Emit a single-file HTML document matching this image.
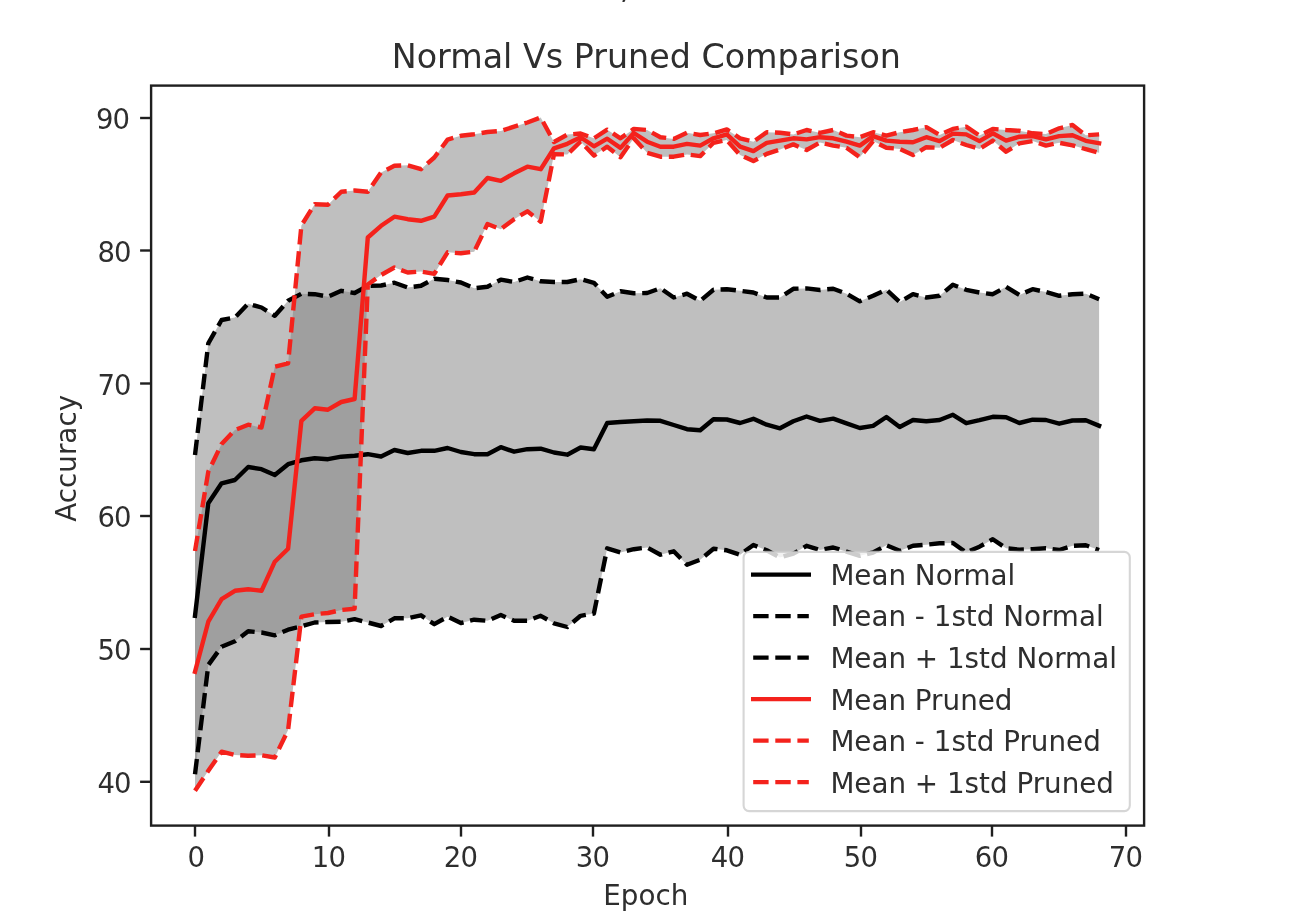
<!DOCTYPE html>
<html lang="en"><head><meta charset="utf-8"><title>Normal Vs Pruned Comparison</title>
<style>html,body{margin:0;padding:0;background:#fff}body{width:1296px;height:924px;overflow:hidden}svg{display:block}text{font-family:"DejaVu Sans","Liberation Sans",sans-serif;fill:#2e2e2e}.t{font-size:27.78px}.k{font-size:27.5px;letter-spacing:-0.8px}.ttl{font-size:33.33px}</style></head><body>
<svg width="1296" height="924" viewBox="0 0 1296 924">
<rect width="1296" height="924" fill="#fff"/>
<defs><clipPath id="ax"><rect x="151.1" y="85.6" width="992.9999999999999" height="740.0"/></clipPath></defs>
<g>
<g clip-path="url(#ax)">
<polygon points="195.0,455.0 208.3,343.3 221.6,320.0 234.9,317.5 248.2,303.7 261.5,307.5 274.8,315.8 288.1,300.8 301.4,293.7 314.7,294.2 328.0,296.7 341.3,290.8 354.6,293.0 367.8,285.8 381.1,285.5 394.4,282.7 407.7,287.5 421.0,285.8 434.3,278.7 447.6,280.0 460.9,282.5 474.2,288.3 487.5,286.7 500.8,279.7 514.1,282.0 527.4,277.5 540.7,281.3 554.0,282.0 567.3,282.0 580.6,279.2 593.9,282.8 607.2,296.7 620.5,291.3 633.8,293.3 647.1,293.0 660.4,288.3 673.7,297.5 687.0,293.7 700.2,300.8 713.5,289.7 726.8,289.2 740.1,290.8 753.4,292.5 766.7,297.5 780.0,297.5 793.3,288.8 806.6,288.4 819.9,290.0 833.2,288.7 846.5,293.7 859.8,301.3 873.1,295.8 886.4,289.7 899.7,302.0 913.0,294.2 926.3,297.5 939.6,295.8 952.9,284.8 966.2,289.8 979.5,292.5 992.8,294.2 1006.1,286.8 1019.4,295.0 1032.6,289.2 1045.9,292.0 1059.2,295.8 1072.5,294.2 1085.8,293.7 1099.1,299.2 1099.1,550.0 1085.8,545.3 1072.5,545.8 1059.2,550.0 1045.9,548.3 1032.6,549.2 1019.4,549.7 1006.1,548.3 992.8,539.2 979.5,546.7 966.2,552.5 952.9,543.0 939.6,543.3 926.3,544.7 913.0,545.8 899.7,550.8 886.4,545.3 873.1,552.5 859.8,555.8 846.5,551.7 833.2,547.5 819.9,550.0 806.6,545.8 793.3,553.7 780.0,557.5 766.7,550.2 753.4,545.0 740.1,554.7 726.8,550.3 713.5,548.7 700.2,559.7 687.0,564.7 673.7,551.3 660.4,554.7 647.1,547.5 633.8,549.2 620.5,552.5 607.2,548.3 593.9,613.5 580.6,615.8 567.3,627.0 554.0,623.3 540.7,615.8 527.4,620.8 514.1,620.8 500.8,615.0 487.5,620.8 474.2,619.7 460.9,623.0 447.6,616.7 434.3,624.2 421.0,615.3 407.7,618.3 394.4,618.3 381.1,626.0 367.8,622.5 354.6,619.2 341.3,621.7 328.0,622.0 314.7,622.5 301.4,626.3 288.1,629.7 274.8,635.3 261.5,632.5 248.2,631.3 234.9,641.3 221.6,646.7 208.3,665.0 195.0,774.2" fill="#808080" fill-opacity="0.5"/>
<polygon points="195.0,551.0 208.3,471.7 221.6,444.0 234.9,430.0 248.2,424.7 261.5,427.5 274.8,366.7 288.1,363.3 301.4,225.5 314.7,204.2 328.0,204.8 341.3,191.7 354.6,190.5 367.8,191.8 381.1,172.5 394.4,165.8 407.7,165.3 421.0,169.2 434.3,157.5 447.6,139.6 460.9,135.8 474.2,134.2 487.5,132.0 500.8,131.0 514.1,126.7 527.4,122.5 540.7,117.5 554.0,142.0 567.3,134.6 580.6,133.5 593.9,138.3 607.2,129.7 620.5,138.3 633.8,128.9 647.1,130.0 660.4,137.2 673.7,138.9 687.0,132.8 700.2,135.0 713.5,133.3 726.8,129.4 740.1,138.3 753.4,141.7 766.7,132.2 780.0,132.8 793.3,134.4 806.6,130.0 819.9,132.8 833.2,130.0 846.5,135.6 859.8,137.2 873.1,132.2 886.4,135.6 899.7,132.2 913.0,130.0 926.3,127.2 939.6,135.0 952.9,128.9 966.2,126.7 979.5,135.6 992.8,128.9 1006.1,130.0 1019.4,130.8 1032.6,133.3 1045.9,134.1 1059.2,128.3 1072.5,125.0 1085.8,135.3 1099.1,134.4 1099.1,152.8 1085.8,149.2 1072.5,145.3 1059.2,142.8 1045.9,145.6 1032.6,141.1 1019.4,143.3 1006.1,151.7 992.8,140.6 979.5,148.9 966.2,145.0 952.9,140.0 939.6,147.8 926.3,147.2 913.0,155.0 899.7,148.9 886.4,147.8 873.1,141.1 859.8,157.2 846.5,147.8 833.2,145.6 819.9,142.5 806.6,150.0 793.3,144.4 780.0,149.4 766.7,153.9 753.4,161.1 740.1,155.0 726.8,140.0 713.5,142.8 700.2,156.1 687.0,154.4 673.7,156.7 660.4,156.7 647.1,152.8 633.8,138.3 620.5,157.2 607.2,146.7 593.9,155.6 580.6,141.5 567.3,154.4 554.0,154.2 540.7,221.7 527.4,211.3 514.1,219.2 500.8,229.2 487.5,224.0 474.2,251.7 460.9,253.3 447.6,252.3 434.3,273.8 421.0,271.5 407.7,272.5 394.4,267.5 381.1,275.0 367.8,284.5 354.6,608.7 341.3,610.0 328.0,613.0 314.7,614.2 301.4,616.7 288.1,730.0 274.8,757.5 261.5,755.3 248.2,755.8 234.9,755.0 221.6,751.7 208.3,770.8 195.0,790.8" fill="#808080" fill-opacity="0.5"/>
<polyline points="195.0,615.8 208.3,503.3 221.6,483.3 234.9,480.0 248.2,467.0 261.5,469.2 274.8,475.0 288.1,464.2 301.4,460.3 314.7,458.3 328.0,459.2 341.3,456.7 354.6,455.8 367.8,454.2 381.1,456.5 394.4,450.0 407.7,453.0 421.0,450.8 434.3,450.8 447.6,448.0 460.9,452.0 474.2,454.2 487.5,454.2 500.8,447.2 514.1,451.7 527.4,449.2 540.7,448.7 554.0,452.5 567.3,454.7 580.6,447.5 593.9,449.2 607.2,423.0 620.5,422.0 633.8,421.3 647.1,420.5 660.4,420.8 673.7,425.0 687.0,429.2 700.2,430.3 713.5,419.2 726.8,419.5 740.1,423.0 753.4,418.8 766.7,424.7 780.0,428.3 793.3,421.3 806.6,416.5 819.9,420.8 833.2,418.7 846.5,423.3 859.8,428.0 873.1,425.8 886.4,417.0 899.7,427.0 913.0,420.0 926.3,421.2 939.6,420.0 952.9,414.8 966.2,423.2 979.5,420.2 992.8,416.8 1006.1,417.3 1019.4,423.0 1032.6,419.7 1045.9,420.0 1059.2,423.7 1072.5,420.5 1085.8,420.3 1099.1,425.8" fill="none" stroke="#000" stroke-width="4.4" stroke-linejoin="round" stroke-linecap="square"/>
<polyline points="195.0,774.2 208.3,665.0 221.6,646.7 234.9,641.3 248.2,631.3 261.5,632.5 274.8,635.3 288.1,629.7 301.4,626.3 314.7,622.5 328.0,622.0 341.3,621.7 354.6,619.2 367.8,622.5 381.1,626.0 394.4,618.3 407.7,618.3 421.0,615.3 434.3,624.2 447.6,616.7 460.9,623.0 474.2,619.7 487.5,620.8 500.8,615.0 514.1,620.8 527.4,620.8 540.7,615.8 554.0,623.3 567.3,627.0 580.6,615.8 593.9,613.5 607.2,548.3 620.5,552.5 633.8,549.2 647.1,547.5 660.4,554.7 673.7,551.3 687.0,564.7 700.2,559.7 713.5,548.7 726.8,550.3 740.1,554.7 753.4,545.0 766.7,550.2 780.0,557.5 793.3,553.7 806.6,545.8 819.9,550.0 833.2,547.5 846.5,551.7 859.8,555.8 873.1,552.5 886.4,545.3 899.7,550.8 913.0,545.8 926.3,544.7 939.6,543.3 952.9,543.0 966.2,552.5 979.5,546.7 992.8,539.2 1006.1,548.3 1019.4,549.7 1032.6,549.2 1045.9,548.3 1059.2,550.0 1072.5,545.8 1085.8,545.3 1099.1,550.0" fill="none" stroke="#000" stroke-width="4.4" stroke-linejoin="round" stroke-linecap="butt" stroke-dasharray="15.4 6.7"/>
<polyline points="195.0,455.0 208.3,343.3 221.6,320.0 234.9,317.5 248.2,303.7 261.5,307.5 274.8,315.8 288.1,300.8 301.4,293.7 314.7,294.2 328.0,296.7 341.3,290.8 354.6,293.0 367.8,285.8 381.1,285.5 394.4,282.7 407.7,287.5 421.0,285.8 434.3,278.7 447.6,280.0 460.9,282.5 474.2,288.3 487.5,286.7 500.8,279.7 514.1,282.0 527.4,277.5 540.7,281.3 554.0,282.0 567.3,282.0 580.6,279.2 593.9,282.8 607.2,296.7 620.5,291.3 633.8,293.3 647.1,293.0 660.4,288.3 673.7,297.5 687.0,293.7 700.2,300.8 713.5,289.7 726.8,289.2 740.1,290.8 753.4,292.5 766.7,297.5 780.0,297.5 793.3,288.8 806.6,288.4 819.9,290.0 833.2,288.7 846.5,293.7 859.8,301.3 873.1,295.8 886.4,289.7 899.7,302.0 913.0,294.2 926.3,297.5 939.6,295.8 952.9,284.8 966.2,289.8 979.5,292.5 992.8,294.2 1006.1,286.8 1019.4,295.0 1032.6,289.2 1045.9,292.0 1059.2,295.8 1072.5,294.2 1085.8,293.7 1099.1,299.2" fill="none" stroke="#000" stroke-width="4.4" stroke-linejoin="round" stroke-linecap="butt" stroke-dasharray="15.4 6.7"/>
<polyline points="195.0,671.7 208.3,621.7 221.6,599.2 234.9,590.8 248.2,589.2 261.5,590.8 274.8,561.7 288.1,548.7 301.4,420.8 314.7,408.3 328.0,409.7 341.3,402.0 354.6,399.0 367.8,237.5 381.1,225.8 394.4,216.7 407.7,219.2 421.0,220.8 434.3,216.7 447.6,195.5 460.9,194.2 474.2,192.5 487.5,178.0 500.8,180.8 514.1,173.3 527.4,166.7 540.7,169.2 554.0,148.3 567.3,143.8 580.6,137.3 593.9,146.3 607.2,138.7 620.5,147.9 633.8,133.0 647.1,141.7 660.4,146.7 673.7,146.7 687.0,143.9 700.2,145.6 713.5,138.3 726.8,134.4 740.1,146.7 753.4,151.1 766.7,142.8 780.0,140.6 793.3,138.3 806.6,139.4 819.9,137.2 833.2,138.3 846.5,141.7 859.8,145.6 873.1,136.1 886.4,140.6 899.7,141.7 913.0,142.2 926.3,137.2 939.6,141.1 952.9,133.6 966.2,134.4 979.5,141.1 992.8,133.3 1006.1,140.6 1019.4,136.7 1032.6,136.1 1045.9,139.4 1059.2,136.1 1072.5,135.3 1085.8,140.8 1099.1,143.3" fill="none" stroke="#f4221c" stroke-width="4.4" stroke-linejoin="round" stroke-linecap="square"/>
<polyline points="195.0,790.8 208.3,770.8 221.6,751.7 234.9,755.0 248.2,755.8 261.5,755.3 274.8,757.5 288.1,730.0 301.4,616.7 314.7,614.2 328.0,613.0 341.3,610.0 354.6,608.7 367.8,284.5 381.1,275.0 394.4,267.5 407.7,272.5 421.0,271.5 434.3,273.8 447.6,252.3 460.9,253.3 474.2,251.7 487.5,224.0 500.8,229.2 514.1,219.2 527.4,211.3 540.7,221.7 554.0,154.2 567.3,154.4 580.6,141.5 593.9,155.6 607.2,146.7 620.5,157.2 633.8,138.3 647.1,152.8 660.4,156.7 673.7,156.7 687.0,154.4 700.2,156.1 713.5,142.8 726.8,140.0 740.1,155.0 753.4,161.1 766.7,153.9 780.0,149.4 793.3,144.4 806.6,150.0 819.9,142.5 833.2,145.6 846.5,147.8 859.8,157.2 873.1,141.1 886.4,147.8 899.7,148.9 913.0,155.0 926.3,147.2 939.6,147.8 952.9,140.0 966.2,145.0 979.5,148.9 992.8,140.6 1006.1,151.7 1019.4,143.3 1032.6,141.1 1045.9,145.6 1059.2,142.8 1072.5,145.3 1085.8,149.2 1099.1,152.8" fill="none" stroke="#f4221c" stroke-width="4.4" stroke-linejoin="round" stroke-linecap="butt" stroke-dasharray="15.4 6.7"/>
<polyline points="195.0,551.0 208.3,471.7 221.6,444.0 234.9,430.0 248.2,424.7 261.5,427.5 274.8,366.7 288.1,363.3 301.4,225.5 314.7,204.2 328.0,204.8 341.3,191.7 354.6,190.5 367.8,191.8 381.1,172.5 394.4,165.8 407.7,165.3 421.0,169.2 434.3,157.5 447.6,139.6 460.9,135.8 474.2,134.2 487.5,132.0 500.8,131.0 514.1,126.7 527.4,122.5 540.7,117.5 554.0,142.0 567.3,134.6 580.6,133.5 593.9,138.3 607.2,129.7 620.5,138.3 633.8,128.9 647.1,130.0 660.4,137.2 673.7,138.9 687.0,132.8 700.2,135.0 713.5,133.3 726.8,129.4 740.1,138.3 753.4,141.7 766.7,132.2 780.0,132.8 793.3,134.4 806.6,130.0 819.9,132.8 833.2,130.0 846.5,135.6 859.8,137.2 873.1,132.2 886.4,135.6 899.7,132.2 913.0,130.0 926.3,127.2 939.6,135.0 952.9,128.9 966.2,126.7 979.5,135.6 992.8,128.9 1006.1,130.0 1019.4,130.8 1032.6,133.3 1045.9,134.1 1059.2,128.3 1072.5,125.0 1085.8,135.3 1099.1,134.4" fill="none" stroke="#f4221c" stroke-width="4.4" stroke-linejoin="round" stroke-linecap="butt" stroke-dasharray="15.4 6.7"/>
</g>
<rect x="151.1" y="85.6" width="992.9999999999999" height="740.0" fill="none" stroke="#1f1f1f" stroke-width="2.4"/>
<line x1="195" y1="825.6" x2="195" y2="836.6" stroke="#1f1f1f" stroke-width="2.4"/>
<line x1="329" y1="825.6" x2="329" y2="836.6" stroke="#1f1f1f" stroke-width="2.4"/>
<line x1="461" y1="825.6" x2="461" y2="836.6" stroke="#1f1f1f" stroke-width="2.4"/>
<line x1="593" y1="825.6" x2="593" y2="836.6" stroke="#1f1f1f" stroke-width="2.4"/>
<line x1="728" y1="825.6" x2="728" y2="836.6" stroke="#1f1f1f" stroke-width="2.4"/>
<line x1="861" y1="825.6" x2="861" y2="836.6" stroke="#1f1f1f" stroke-width="2.4"/>
<line x1="992" y1="825.6" x2="992" y2="836.6" stroke="#1f1f1f" stroke-width="2.4"/>
<line x1="1126" y1="825.6" x2="1126" y2="836.6" stroke="#1f1f1f" stroke-width="2.4"/>
<line x1="140.1" y1="118" x2="151.1" y2="118" stroke="#1f1f1f" stroke-width="2.4"/>
<line x1="140.1" y1="250.5" x2="151.1" y2="250.5" stroke="#1f1f1f" stroke-width="2.4"/>
<line x1="140.1" y1="383.5" x2="151.1" y2="383.5" stroke="#1f1f1f" stroke-width="2.4"/>
<line x1="140.1" y1="516" x2="151.1" y2="516" stroke="#1f1f1f" stroke-width="2.4"/>
<line x1="140.1" y1="649" x2="151.1" y2="649" stroke="#1f1f1f" stroke-width="2.4"/>
<line x1="140.1" y1="781.8" x2="151.1" y2="781.8" stroke="#1f1f1f" stroke-width="2.4"/>
<rect x="743.6" y="551.9" width="386.2" height="259.2" rx="5.5" ry="5.5" fill="#fff" fill-opacity="0.8" stroke="#ccc" stroke-opacity="0.8" stroke-width="2.1"/>
<line x1="753.2" y1="574.6" x2="808.8" y2="574.6" stroke="#000" stroke-width="4.4" stroke-linecap="square"/>
<line x1="753.2" y1="616.1" x2="808.8" y2="616.1" stroke="#000" stroke-width="4.4" stroke-linecap="butt" stroke-dasharray="15.4 6.7"/>
<line x1="753.2" y1="657.6" x2="808.8" y2="657.6" stroke="#000" stroke-width="4.4" stroke-linecap="butt" stroke-dasharray="15.4 6.7"/>
<line x1="753.2" y1="699.1" x2="808.8" y2="699.1" stroke="#f4221c" stroke-width="4.4" stroke-linecap="square"/>
<line x1="753.2" y1="740.6" x2="808.8" y2="740.6" stroke="#f4221c" stroke-width="4.4" stroke-linecap="butt" stroke-dasharray="15.4 6.7"/>
<line x1="753.2" y1="782.1" x2="808.8" y2="782.1" stroke="#f4221c" stroke-width="4.4" stroke-linecap="butt" stroke-dasharray="15.4 6.7"/>
</g>
<g>
<text class="k" x="195.9" y="866.8" text-anchor="middle">0</text>
<text class="k" x="328.4" y="866.8" text-anchor="middle">10</text>
<text class="k" x="460.4" y="866.8" text-anchor="middle">20</text>
<text class="k" x="592.4" y="866.8" text-anchor="middle">30</text>
<text class="k" x="727.4" y="866.8" text-anchor="middle">40</text>
<text class="k" x="860.4" y="866.8" text-anchor="middle">50</text>
<text class="k" x="991.4" y="866.8" text-anchor="middle">60</text>
<text class="k" x="1125.4" y="866.8" text-anchor="middle">70</text>
<text class="k" x="129.3" y="129.2" text-anchor="end">90</text>
<text class="k" x="130.8" y="261.7" text-anchor="end">80</text>
<text class="k" x="130.8" y="394.7" text-anchor="end">70</text>
<text class="k" x="130.8" y="527.2" text-anchor="end">60</text>
<text class="k" x="130.8" y="660.2" text-anchor="end">50</text>
<text class="k" x="130.8" y="793.0" text-anchor="end">40</text>
<text class="t" x="645.8" y="904.8" text-anchor="middle">Epoch</text>
<text class="t" transform="translate(76.2 458.3) rotate(-90)" text-anchor="middle">Accuracy</text>
<text class="ttl" x="646.4" y="68.4" text-anchor="middle">Normal Vs Pruned Comparison</text>
<text class="ttl" x="619.7" y="-2.0">,</text>
<text class="t" x="830.4" y="584.7">Mean Normal</text>
<text class="t" x="830.4" y="626.3">Mean - 1std Normal</text>
<text class="t" x="830.4" y="667.9">Mean + 1std Normal</text>
<text class="t" x="830.4" y="709.5">Mean Pruned</text>
<text class="t" x="830.4" y="751.1">Mean - 1std Pruned</text>
<text class="t" x="830.4" y="792.7">Mean + 1std Pruned</text>
</g>
</svg></body></html>
